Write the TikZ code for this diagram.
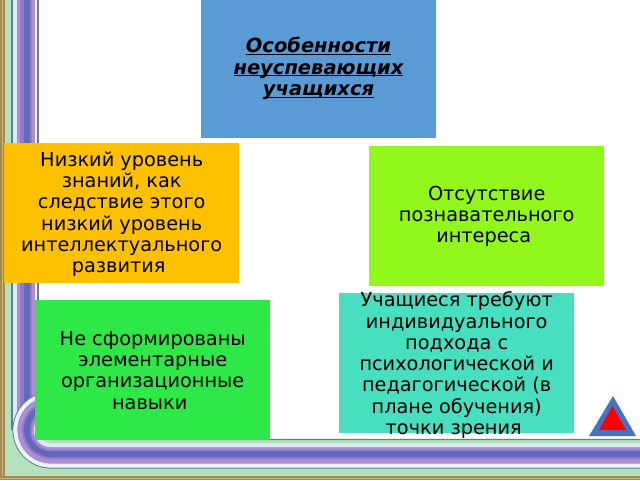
\documentclass[tikz,border=0pt]{standalone}
\usepackage{fontspec}
\setmainfont{DejaVu Sans}
\definecolor{blueb}{HTML}{5B9BD5}
\definecolor{orangeb}{HTML}{FFC000}
\definecolor{limeb}{HTML}{92F71A}
\definecolor{greenb}{HTML}{2EE847}
\definecolor{tealb}{HTML}{48DFC0}
\definecolor{brownf}{HTML}{A38A50}
\definecolor{brownl}{HTML}{CDB780}
\definecolor{mintf}{HTML}{B5E2BC}
\definecolor{darkl}{HTML}{5F8096}
\definecolor{palew}{HTML}{DDEBF5}
\definecolor{whitel}{HTML}{EEF2FA}
\definecolor{purp}{HTML}{AE8FD6}
\definecolor{purm}{HTML}{8F7CCB}
\definecolor{purd}{HTML}{6468BA}
\definecolor{triblue}{HTML}{4472C4}
\tikzset{
 box/.style={minimum width=235pt,minimum height=140pt,inner sep=0pt,anchor=north west},
 lab/.style={inner sep=0pt,align=center,font=\fontsize{19.3}{21.3}\selectfont},
 headlab/.style={inner sep=0pt,align=center,font=\fontsize{19.5}{21.3}\selectfont\bfseries\itshape},
 lay/.style={line cap=butt,line join=round},
}
\newcommand{\ul}[1]{\underline{\smash{#1}}}
\newcommand{\trail}{\hspace*{6pt}}
\begin{document}
\begin{tikzpicture}[x=1pt,y=-1pt]
\useasboundingbox (0,0) rectangle (640,480);
\fill[white] (0,0) rectangle (640,480);
% mint and brown edge
\fill[mintf] (0,0) rectangle (13,480);
\fill[mintf] (0,440) rectangle (640,480);
\fill[brownf] (0,0) rectangle (5,480);
\fill[brownl] (2,0) rectangle (3,480);
\fill[brownf] (0,476) rectangle (640,480);
\fill[brownl] (0,477.5) rectangle (640,478.5);
% vertical band
\fill[darkl] (11,0) rectangle (39,430);
\fill[palew] (13,0) rectangle (37,430);
\fill[whitel] (35,0) rectangle (37,430);
\fill[purp] (17,0) rectangle (35,430);
\fill[purm] (20,0) rectangle (32,430);
\fill[purd] (24,0) rectangle (30,430);
% swoosh: corner arc and bottom band, stripe by stripe
\foreach \ro/\ri/\c in {38.5/37.5/darkl,37.5/33.5/whitel,33.5/29/purp,29/27/purm,27/21/purd,21/19/purm,19/17/purp,17/13/palew,13/10/mintf,10/9/darkl}{
 \pgfmathsetmacro{\rr}{(\ro+\ri)/2}
 \pgfmathsetmacro{\ww}{\ro-\ri+0.15}
 \draw[lay,line width=\ww pt,color=\c] plot[domain=-70:90,samples=50] ({51-\rr*cos(\x)},{430+\rr*sin(\x)}) -- (640,430+\rr);
}
% boxes
\node[box,fill=blueb,minimum height=142pt] (head) at (201,-4) {};
\node[headlab] (headt) at (318.5,75) {\ul{Особенности}\\ \ul{неуспевающих}\\ \ul{учащихся}};
\node[box,fill=orangeb] (low) at (4,143) {};
\node[lab,yshift=-1pt] (lowt) at (low.center) {Низкий уровень\\ знаний, как\\ следствие этого\\ низкий уровень\\ интеллектуального\\ развития\trail};
\node[box,fill=limeb] (interest) at (369,146) {};
\node[lab] (interestt) at (interest.center) {Отсутствие\\ познавательного\\ интереса\trail};
\node[box,fill=greenb] (skills) at (35,300) {};
\node[lab] (skillst) at (skills.center) {Не сформированы\\ элементарные\\ организационные\\ навыки\trail};
\node[box,fill=tealb] (indiv) at (339,293) {};
\node[lab,yshift=-2pt] (indivt) at (indiv.center) {Учащиеся требуют\\ индивидуального\\ подхода с\\ психологической и\\ педагогической (в\\ плане обучения)\\ точки зрения\trail};
% triangle button
\coordinate (ta) at (613,396);
\coordinate (tb) at (589,436);
\coordinate (tc) at (636,436);
\coordinate (ra) at (612.5,406);
\coordinate (rb) at (599,430);
\coordinate (rc) at (626,430);
\fill[triblue] (ta) -- (tb) -- (tc) -- cycle;
\fill[red] (ra) -- (rb) -- (rc) -- cycle;
\end{tikzpicture}
\end{document}
